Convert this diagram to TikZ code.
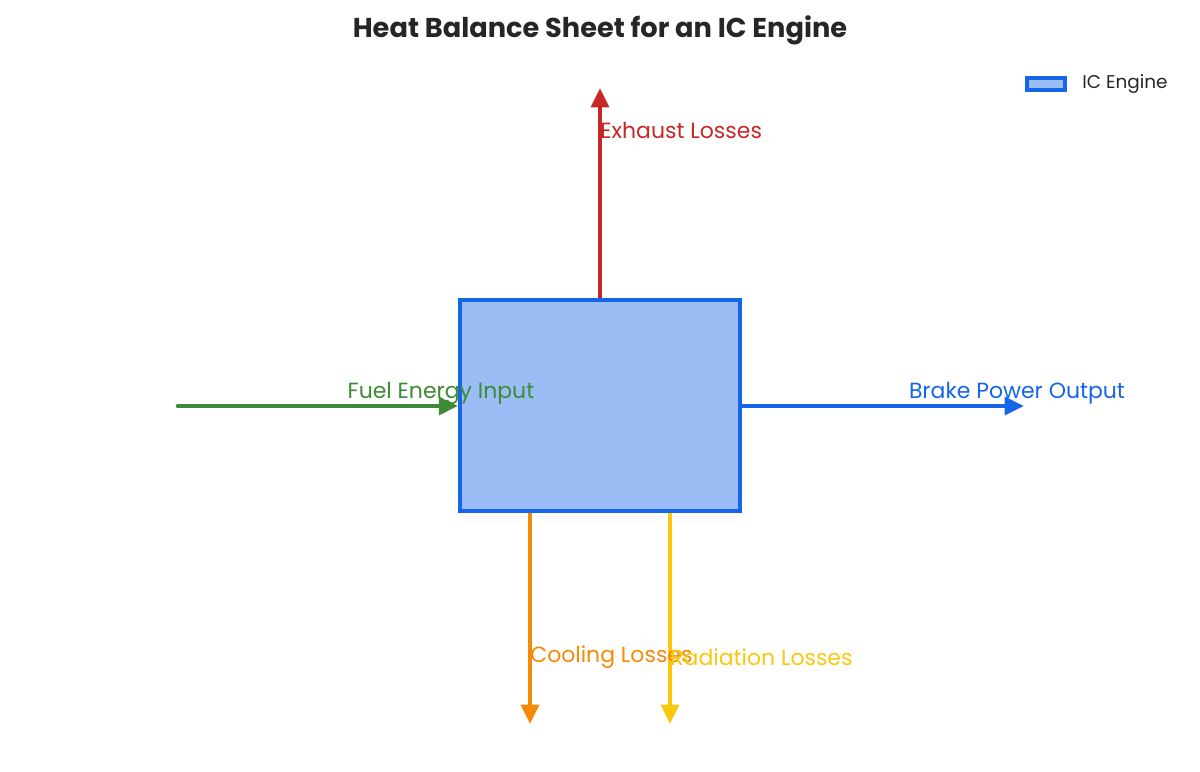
\documentclass[tikz,border=0pt]{standalone}
\usepackage{fontspec}
\setmainfont{Poppins}
\usetikzlibrary{arrows.meta, positioning}
\definecolor{engfill}{HTML}{9ABDF5}
\definecolor{engdraw}{HTML}{1565E8}
\definecolor{exred}{HTML}{C62828}
\definecolor{fuelgreen}{HTML}{3E8A36}
\definecolor{coolorange}{HTML}{F58A07}
\definecolor{radyellow}{HTML}{F9C80E}
\begin{document}
\begin{tikzpicture}[
    x=0.02cm, y=-0.02cm,
    engine/.style={rectangle, draw=engdraw, fill=engfill, line width=2.2pt, minimum width=5.6cm, minimum height=4.22cm, inner sep=0pt},
    flow/.style={-{Triangle[length=11pt, width=10pt]}, line width=2.6pt},
    label/.style={font=\fontsize{12.5}{14}\selectfont, inner sep=0pt}
]
    \useasboundingbox (0,0) rectangle (1200,771);
    \node[font=\fontsize{15.5}{18}\selectfont\bfseries, text=black!85] (title) at (600,30) {Heat Balance Sheet for an IC Engine};

    \node[engine] (eng) at (600,405.5) {};

    % legend
    \node[rectangle, draw=engdraw, fill=engfill, line width=2pt, minimum width=0.76cm, minimum height=0.24cm, inner sep=0pt] (legbox) at (1046,84) {};
    \node[label, anchor=west, font=\fontsize{10.5}{12}\selectfont, text=black!85] (legtext) at (1082,84) {IC Engine};

    % flow end points
    \coordinate (exhtop) at (600,88);
    \coordinate (fuelin) at (178,406);
    \coordinate (brakeout) at (1024,406);
    \coordinate (coolend) at (530,724);
    \coordinate (radend) at (670,724);

    \draw[flow, exred] (eng.north) -- (exhtop);
    \draw[flow, fuelgreen, line cap=round] (fuelin) -- (eng.west |- fuelin);
    \draw[flow, engdraw] (eng.east |- brakeout) -- (brakeout);
    \draw[flow, coolorange] (eng.south -| coolend) -- (coolend);
    \draw[flow, radyellow] (eng.south -| radend) -- (radend);

    \node[label, text=exred, anchor=west] (exhlab) at (600,130) {Exhaust Losses};
    \node[label, text=fuelgreen] (fuellab) at (441,393) {Fuel Energy Input};
    \node[label, text=engdraw] (brakelab) at (1017,393) {Brake Power Output};
    \node[label, text=coolorange, anchor=west] (coollab) at (530,657) {Cooling Losses};
    \node[label, text=radyellow, anchor=west] (radlab) at (670,657) {Radiation Losses};
\end{tikzpicture}
\end{document}
